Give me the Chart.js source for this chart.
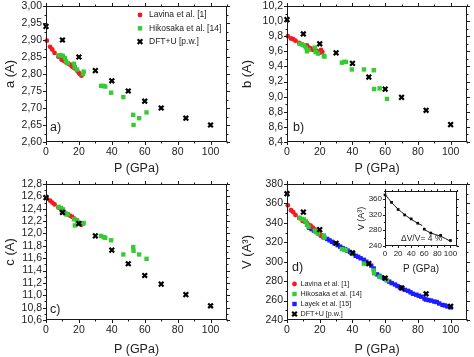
<!DOCTYPE html>
<html><head><meta charset="utf-8">
<script src="https://cdn.jsdelivr.net/npm/chart.js@4.4.1/dist/chart.umd.min.js"></script>
<style>
html,body{margin:0;padding:0;background:#fff;}
#wrap{position:relative;width:474px;height:357px;overflow:hidden;font-family:"Liberation Sans",Arial,sans-serif;}
.pn{position:absolute;}
.pn canvas{display:block;}
.lbl{position:absolute;color:#222;line-height:1;white-space:nowrap;z-index:5;}
</style></head><body>
<div id="wrap">
<div class="pn" style="left:0;top:0"><canvas id="ca" width="237" height="178"></canvas></div>
<div class="pn" style="left:237px;top:0"><canvas id="cb" width="237" height="178"></canvas></div>
<div class="pn" style="left:0;top:178px"><canvas id="cc" width="237" height="179"></canvas></div>
<div class="pn" style="left:237px;top:178px"><canvas id="cd" width="237" height="179"></canvas></div>
<div class="pn" style="left:350px;top:185px"><canvas id="ci" width="120" height="95"></canvas></div>
<div class="lbl" style="left:50px;top:121px;font-size:12.5px">a)</div>
<div class="lbl" style="left:293px;top:121px;font-size:12.5px">b)</div>
<div class="lbl" style="left:50px;top:303px;font-size:12.5px">c)</div>
<div class="lbl" style="left:292px;top:261px;font-size:12.5px">d)</div>
<div class="lbl" style="left:401px;top:234px;font-size:8.5px">ΔV/V= 4 %</div>
</div>
<script>
// ---------- DATA ----------
const seriesNames = ['Lavina et al. [1]', 'Hikosaka et al. [14]', 'Layek et al. [15]', 'DFT+U [p.w.]'];

const pDFT = [0, 10, 20, 30, 40, 50, 60, 70, 85, 100];
const aDFT = [2.94, 2.90, 2.85, 2.81, 2.78, 2.75, 2.72, 2.70, 2.67, 2.65];
const bDFT = [10.02, 9.83, 9.70, 9.58, 9.44, 9.26, 9.10, 8.99, 8.82, 8.63];
const cDFT = [12.58, 12.34, 12.16, 11.96, 11.73, 11.51, 11.32, 11.18, 11.01, 10.83];
const vDFT = [370, 351, 333, 319, 309, 298, 283, 273, 267, 254];

const pLavina = [0.5, 2.5, 3.8, 5.2, 7.5, 9.5, 11, 12.2, 13.3, 14.5, 15.8, 17.2, 18.8, 20, 20.8, 21.6];
const aLavina = [2.898, 2.880, 2.872, 2.862, 2.851, 2.842, 2.838, 2.834, 2.831, 2.828, 2.822, 2.817, 2.810, 2.803, 2.799, 2.795];
const bLavina = [9.80, 9.77, 9.76, 9.74, 9.71, 9.69, 9.67, 9.68, 9.65, 9.64, 9.62, 9.63, 9.60, 9.58, 9.62, 9.59];
const cLavina = [12.57, 12.53, 12.50, 12.47, 12.42, 12.37, 12.35, 12.32, 12.31, 12.29, 12.27, 12.24, 12.21, 12.17, 12.15, 12.14];
const vLavina = [358, 353, 351, 348, 345, 342, 341, 340, 338, 337, 335, 333, 331, 328, 327, 326];

const pHiko = [7.7, 9.1, 10.3, 11.5, 12.2, 13.2, 17.0, 17.5, 18.9, 22.5, 22.9, 33.5, 35.0, 36.0, 39.6, 47.0, 53.0, 53.2, 56.6, 61.1];
const aHiko = [2.855, 2.855, 2.853, 2.847, 2.837, 2.832, 2.830, 2.820, 2.813, 2.800, 2.807, 2.765, 2.765, 2.763, 2.745, 2.732, 2.680, 2.650, 2.670, 2.687];
const bHiko = [9.70, 9.69, 9.68, 9.65, 9.60, 9.62, 9.65, 9.59, 9.57, 9.54, 9.53, 9.45, 9.46, 9.46, 9.36, 9.36, 9.35, 9.10, 9.11, 8.97];
const cHiko = [12.43, 12.41, 12.39, 12.33, 12.31, 12.31, 12.23, 12.13, 12.21, 12.16, 12.17, 11.96, 11.94, 11.93, 11.89, 11.66, 11.78, 11.72, 11.66, 11.59];
const vHiko = [345, 344, 343.5, 341.5, 338, 336, 332, 331, 329, 327, 325, 313, 312.5, 312, 308.5, 298, 291, 288, 284.5, 281];

const pLayek = [13.5, 15, 16.5, 18, 19.5, 21, 22.5, 24.5, 26, 27.5, 29, 31, 32.5, 34, 35.5, 37, 38.5, 40.5, 42, 43.5, 45, 47, 48.5, 50, 51.5, 53, 55, 56.5, 58, 59.5, 61, 62.5, 64, 66, 67.5, 69, 70.5, 72, 74, 75.5, 77, 79, 80.5, 82, 84, 85, 86.5, 88, 90, 91.5, 93, 95, 96.5, 98, 100];
const vLayek = [335, 333.5, 332, 330.5, 329, 327, 325, 323.5, 322, 320.5, 319, 317, 315.5, 314, 313, 311.5, 310, 308, 306, 305, 303.5, 302, 300, 298, 296, 293, 287, 285.5, 284, 283, 281, 279.5, 278, 276.5, 275, 273.5, 272.5, 271, 270, 268.5, 267, 266, 265, 264, 262, 261, 260.5, 260, 259, 258.5, 257, 255.5, 255, 254, 253];

// inset fit curves (two branches)
const pFit1 = [0, 10, 20, 30, 40, 50, 57];
const vFit1 = [372, 351, 334, 320, 308, 298, 292];
const pFit2 = [59, 70, 85, 100];
const vFit2 = [283, 273, 265, 252];

// ---------- HELPERS ----------
const FONT = '"Liberation Sans", Arial, sans-serif';
const TXT = '#222';
const pts = (xs, ys) => xs.map((x, i) => ({x: x, y: ys[i]}));

const style = {
  lavina: {pointStyle: 'circle', pointRadius: 2.4, backgroundColor: '#ee1c24', borderColor: '#ee1c24', pointBorderWidth: 0, order: 2},
  hiko:   {pointStyle: 'rect', pointRadius: 3.1, backgroundColor: '#33cc33', borderColor: '#33cc33', pointBorderWidth: 0, order: 1},
  layek:  {pointStyle: 'rect', pointRadius: 3.1, backgroundColor: '#1c1cff', borderColor: '#1c1cff', pointBorderWidth: 0, order: 3},
  dft:    {pointStyle: 'crossRot', pointRadius: 3.3, backgroundColor: '#000', borderColor: '#000', pointBorderWidth: 2.2, order: 0}
};
function ds(label, data, st) {
  return Object.assign({label: label, data: data, showLine: false, clip: false, pointHoverRadius: 0}, st);
}

function drawMarker(ctx, st, x, y) {
  ctx.save();
  ctx.fillStyle = st.backgroundColor; ctx.strokeStyle = st.borderColor;
  const r = st.pointRadius;
  if (st.pointStyle === 'circle') {
    ctx.beginPath(); ctx.arc(x, y, r, 0, Math.PI * 2); ctx.fill();
  } else if (st.pointStyle === 'rect') {
    const s = r * Math.SQRT1_2;
    ctx.fillRect(x - s, y - s, 2 * s, 2 * s);
  } else {
    const d = r * Math.SQRT1_2;
    ctx.lineWidth = st.pointBorderWidth;
    ctx.beginPath(); ctx.moveTo(x - d, y - d); ctx.lineTo(x + d, y + d);
    ctx.moveTo(x + d, y - d); ctx.lineTo(x - d, y + d); ctx.stroke();
  }
  ctx.restore();
}

const framePlugin = {
  id: 'frame',
  afterDatasetsDraw(chart, args, o) {
    const {ctx, chartArea: a, scales: {x, y}} = chart;
    ctx.save();
    ctx.strokeStyle = '#1a1a1a'; ctx.lineWidth = 1;
    const L = Math.round(a.left) + 0.5, R = Math.round(a.right) - 0.5, T = Math.round(a.top) + 0.5, B = Math.round(a.bottom) - 0.5;
    ctx.strokeRect(L, T, R - L, B - T);
    ctx.beginPath();
    const xo = x.options, yo = y.options;
    const xs = xo.ticks.stepSize / 2, ys = yo.ticks.stepSize / 2;
    let k = 0;
    for (let v = xo.min; v <= xo.max + 1e-9; v += xs, k++) {
      const px = Math.round(x.getPixelForValue(v)) + 0.5;
      const len = k % 2 === 0 ? o.major : o.minor;
      ctx.moveTo(px, B); ctx.lineTo(px, B + len);
      ctx.moveTo(px, T); ctx.lineTo(px, T - len);
    }
    k = 0;
    for (let v = yo.min; v <= yo.max + 1e-9; v += ys, k++) {
      const py = Math.round(y.getPixelForValue(v)) + 0.5;
      const len = k % 2 === 0 ? o.major : o.minor;
      ctx.moveTo(L, py); ctx.lineTo(L - len, py);
      ctx.moveTo(R, py); ctx.lineTo(R + len, py);
    }
    ctx.stroke();
    ctx.restore();
  }
};

const legendPlugin = {
  id: 'inlegend',
  afterDraw(chart, args, o) {
    if (!o.items) return;
    const ctx = chart.ctx;
    ctx.save();
    ctx.font = o.size + 'px ' + FONT;
    ctx.fillStyle = TXT; ctx.textBaseline = 'middle'; ctx.textAlign = 'left';
    o.items.forEach((idx, i) => {
      const d = chart.data.datasets[idx];
      const yy = o.y + i * o.dy;
      drawMarker(ctx, d, o.x, yy);
      ctx.fillStyle = TXT;
      ctx.fillText(d.label, o.tx, yy);
    });
    ctx.restore();
  }
};

function fix(w, h) {
  return function (s) {
    if (w !== undefined) s.width = w;
    if (h !== undefined) s.height = h;
    s.paddingTop = 0; s.paddingBottom = 0; s.paddingLeft = 0; s.paddingRight = 0;
  };
}

function makeChart(id, c) {
  return new Chart(document.getElementById(id), {
    type: 'scatter',
    data: {datasets: c.datasets},
    plugins: [framePlugin, legendPlugin],
    options: {
      responsive: false, animation: false, events: [],
      layout: {padding: c.pad},
      plugins: {legend: {display: false}, tooltip: {enabled: false},
        frame: {major: c.major || 3.5, minor: c.minor || 2},
        inlegend: c.legend || {}},
      scales: {
        x: {type: 'linear', min: c.xmin, max: c.xmax,
          grid: {display: false, drawTicks: false}, border: {display: false},
          ticks: {stepSize: c.xstep, includeBounds: false, autoSkip: false, maxRotation: 0, padding: c.xtpad,
            color: TXT, font: {family: FONT, size: c.tickSize}},
          title: {display: true, text: 'P (GPa)', color: TXT, font: {family: FONT, size: c.xtSize}, padding: {top: 0, bottom: c.xtitlePad}},
          afterFit: fix(undefined, c.xh)},
        y: {type: 'linear', min: c.ymin, max: c.ymax,
          grid: {display: false, drawTicks: false}, border: {display: false},
          ticks: {stepSize: c.ystep, includeBounds: false, autoSkip: false, padding: c.ytpad,
            color: TXT, font: {family: FONT, size: c.tickSize},
            callback: v => c.ydec === 0 ? String(Math.round(v)) : v.toFixed(c.ydec).replace('.', ',')},
          title: {display: true, text: c.ytitle, color: TXT, font: {family: FONT, size: c.ytSize}, padding: {top: c.ytitlePad, bottom: 0}},
          afterFit: fix(c.yw, undefined)}
      }
    }
  });
}

const common = {xmin: 0, xmax: 110, xstep: 20, tickSize: 10.5, xtSize: 12.5, ytSize: 13, xtpad: 4, ytpad: 4};

makeChart('ca', Object.assign({}, common, {
  datasets: [ds(seriesNames[0], pts(pLavina, aLavina), style.lavina), ds(seriesNames[1], pts(pHiko, aHiko), style.hiko), ds(seriesNames[3], pts(pDFT, aDFT), style.dft)],
  ymin: 2.6, ymax: 3.0, ystep: 0.05, ydec: 2, ytitle: 'a (A)',
  pad: {left: 0, top: 6, right: 10, bottom: 0}, yw: 46, xh: 36, xtitlePad: 2, ytitlePad: 3,
  legend: {items: [0, 1, 2], x: 140, y: 15, dy: 13.3, tx: 149, size: 8.5}
}));
makeChart('cb', Object.assign({}, common, {
  datasets: [ds(seriesNames[0], pts(pLavina, bLavina), style.lavina), ds(seriesNames[1], pts(pHiko, bHiko), style.hiko), ds(seriesNames[3], pts(pDFT, bDFT), style.dft)],
  ymin: 8.4, ymax: 10.2, ystep: 0.2, ydec: 1, ytitle: 'b (A)',
  pad: {left: 0, top: 6, right: 7, bottom: 0}, yw: 50, xh: 36, xtitlePad: 2, ytitlePad: 3
}));
makeChart('cc', Object.assign({}, common, {
  datasets: [ds(seriesNames[0], pts(pLavina, cLavina), style.lavina), ds(seriesNames[1], pts(pHiko, cHiko), style.hiko), ds(seriesNames[3], pts(pDFT, cDFT), style.dft)],
  ymin: 10.6, ymax: 12.8, ystep: 0.2, ydec: 1, ytitle: 'c (A)',
  pad: {left: 0, top: 6, right: 10, bottom: 0}, yw: 46, xh: 37, xtitlePad: 0, ytitlePad: 3
}));
makeChart('cd', Object.assign({}, common, {
  datasets: [ds(seriesNames[0], pts(pLavina, vLavina), style.lavina), ds(seriesNames[1], pts(pHiko, vHiko), style.hiko), ds(seriesNames[2], pts(pLayek, vLayek), style.layek), ds(seriesNames[3], pts(pDFT, vDFT), style.dft)],
  ymin: 240, ymax: 380, ystep: 20, ydec: 0, ytitle: 'V (A³)',
  pad: {left: 0, top: 6, right: 7, bottom: 0}, yw: 50, xh: 37, xtitlePad: 0, ytitlePad: 3,
  legend: {items: [0, 1, 2, 3], x: 57.5, y: 106, dy: 10, tx: 63.5, size: 7.2}
}));

// inset
makeChart('ci', {
  xmin: 0, xmax: 110, xstep: 20, tickSize: 8, xtSize: 10, ytSize: 9, xtpad: 3, ytpad: 3,
  major: 2.5, minor: 1.5,
  datasets: [
    Object.assign(ds('fit1', pts(pFit1, vFit1), {}), {showLine: true, pointRadius: 0, borderColor: '#111', borderWidth: 1, cubicInterpolationMode: 'monotone'}),
    Object.assign(ds('fit2', pts(pFit2, vFit2), {}), {showLine: true, pointRadius: 0, borderColor: '#111', borderWidth: 1, cubicInterpolationMode: 'monotone'}),
    ds(seriesNames[3], pts(pDFT, vDFT), {pointStyle: 'rect', pointRadius: 1.9, backgroundColor: '#000', borderColor: '#000', pointBorderWidth: 0})
  ],
  ymin: 240, ymax: 380, ystep: 40, ydec: 0, ytitle: 'V (A³)',
  pad: {left: 0, top: 6, right: 13, bottom: 0}, yw: 35, xh: 34, xtitlePad: 5, ytitlePad: 6
});
</script>
</body></html>
